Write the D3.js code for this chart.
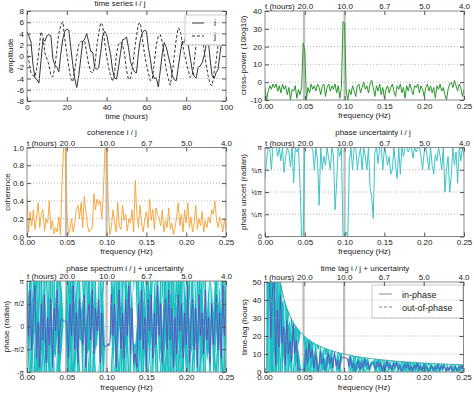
<!DOCTYPE html>
<html>
<meta http-equiv="content-type" content="text/html; charset=utf-8" />
<head>
  <title>Cross spectrum i / j</title>
</head>
<style>
body { margin: 0; background: #fff; }
text { font-family: "Liberation Sans", Arial, sans-serif; fill: #222; }
.axis text { font: 8px "Liberation Sans", Arial, sans-serif; fill: #222; }
.axis line { stroke: #555; }
.axis path { display: none; }
.frame { fill: none; stroke: #888; stroke-width: 1; }
.lbl { font-size: 8px; }
</style>
<body>
<svg class="chart"></svg>
<script src="https://d3js.org/d3.v7.min.js"></script>
<script>
// sample times (hours) and the two time series
var hours = d3.range(0, 101);
var seriesI = [
   4.4,  3.5,  2.5, -1.5, -3.9, -4.2, -4.8, -1.0,  3.0,  2.6,
   3.6,  3.8,  3.6, -0.5, -1.6, -2.0, -2.8,  0.5,  3.0,  4.4,
   4.8,  4.6,  1.5, -1.5, -4.0, -5.6, -3.5, -0.5,  2.6,  3.0,
   4.0,  2.5,  0.8,  0.7, -2.0, -2.4, -2.1,  0.5,  3.5,  4.4,
   3.8,  2.0,  0.3, -2.5, -3.9, -4.1, -2.0,  0.5,  2.9,  3.0,
   3.4,  1.5, -1.0, -2.0, -2.8, -3.0,  0.5,  3.0,  4.1,  4.6,
   4.4,  1.5, -0.6, -3.0, -4.0, -3.9, -5.5, -2.5,  0.5,  2.4,
   1.5,  0.0, -1.5, -3.5, -4.2, -4.4, -2.0,  0.5,  2.6,  2.4,
   3.8,  2.0, -0.2, -2.5, -3.6, -3.9, -2.0, -1.8, -1.2,  0.0,
   2.0,  3.0, -0.5, -3.5, -4.0, -3.0, -2.4,  0.5,  2.9,  4.0,
   5.0];
var seriesJ = [
   1.0, -1.0, -3.0, -3.5, -3.7, -2.0,  1.0,  4.3,  3.5,  0.5,
  -0.5, -1.5, -3.5, -3.7, -2.0,  1.0,  4.0,  5.5,  6.1,  3.0,
   0.5, -2.0, -4.0, -4.6, -2.5,  0.0,  2.0,  2.5,  2.6,  2.7,
   0.5, -1.5, -2.8, -3.0, -2.0,  1.5,  4.0,  5.9,  5.5,  2.5,
   0.0, -2.0, -3.5, -4.5, -3.0,  0.5,  2.0,  2.5,  2.0,  0.5,
  -2.5, -4.2, -4.0, -2.0,  1.0,  3.5,  5.7,  5.9,  3.0,  0.5,
  -1.5, -3.0, -4.4, -4.0, -1.0,  2.0,  3.5,  3.8,  2.5,  0.0,
  -2.5, -4.0, -5.2, -3.0,  0.0,  3.0,  5.0,  4.5,  2.5,  0.5,
  -1.0, -2.5, -3.8, -3.5, -1.0,  2.0,  4.5,  5.0,  3.5,  1.0,
  -1.5, -3.5, -5.0, -5.3, -3.0, -1.0,  2.0,  4.0,  5.6,  4.0,
   2.5];

// frequency grid (Hz), 0 .. 0.25
var freq = d3.range(0, 126).map(function(k) { return k * 0.002; });
var crossPower = [
   -3, -10,  -5,  -2,  -4,  -1,  -3,  -1,  -5,  -2,
   -6,  -1,  -4,  -2,  -7,  -3, -10,  -4,  -5,  -2,
   -9,  -4,  -7,  -3,  22,  18, -10,  -3,  -6,  -1,
   -4,  -2,  -5,  -1,  -3,  -7,  -2,  -1,  -8,  -3,
   -1,  -5,  -2,  -4,  -1,  -6,  -2,  -9,  -3,  34,
   33,  -5, -10,  -4,  -7,  -2,  -5,  -8,  -2,  -1,
   -6,  -3,   0,  -4,  -2,  -6,  -1,   1,  -3,  -8,
   -2,  -5,  -1,  -7,  -3,  -9,  -4,  -2,  -6,  -3,
   -1,  -5,  -8,  -2,  -4,  -1,  -6,  -3,  -9,  -2,
   -5,  -1,  -4,  -7,  -2,  -3,  -1,  -6,  -2,  -4,
   -8,  -3,  -1,  -5,  -2,  -6,  -3,  -9,  -2,  -4,
   -1,  -5,  -3,  -7, -10,  -4,  -1,   0,  -3,   1,
   -2,  -5,  -1,  -3,  -8,  -4];
var coherence = [
  0.48, 0.05, 0.28, 0.12, 0.30, 0.08, 0.22, 0.38, 0.10, 0.25,
  0.30, 0.06, 0.20, 0.15, 0.40, 0.08, 0.18, 0.03, 0.10, 0.05,
  0.22, 0.02, 0.60, 1.00, 1.00, 0.30, 0.02, 0.08, 0.20, 0.05,
  0.15, 0.30, 0.35, 0.20, 0.38, 0.10, 0.45, 0.28, 0.12, 0.05,
  0.08, 0.10, 0.48, 0.30, 0.42, 0.36, 0.40, 0.20, 0.50, 1.00,
  1.00, 0.40, 0.02, 0.10, 0.30, 0.15, 0.05, 0.38, 0.12, 0.08,
  0.35, 0.18, 0.25, 0.06, 0.20, 0.15, 0.30, 0.05, 0.63, 0.25,
  0.10, 0.35, 0.15, 0.05, 0.20, 0.28, 0.10, 0.42, 0.18, 0.30,
  0.08, 0.32, 0.25, 0.20, 0.12, 0.30, 0.05, 0.18, 0.10, 0.32,
  0.08, 0.15, 0.02, 0.10, 0.22, 0.38, 0.12, 0.25, 0.05, 0.30,
  0.15, 0.38, 0.10, 0.22, 0.05, 0.15, 0.35, 0.08, 0.20, 0.12,
  0.28, 0.05, 0.18, 0.10, 0.22, 0.15, 0.30, 0.25, 0.40, 0.20,
  0.10, 0.22, 0.15, 0.05, 0.20, 0.08];
// phase uncertainty, in units of pi
var phaseUnc = [
  0.65, 0.85, 1.00, 1.00, 0.75, 1.00, 1.00, 1.00, 0.90, 1.00,
  0.85, 1.00, 0.72, 0.90, 1.00, 0.95, 0.78, 1.00, 0.60, 1.00,
  0.95, 1.00, 0.60, 0.00, 0.00, 1.00, 1.00, 1.00, 1.00, 1.00,
  0.98, 0.75, 1.00, 0.85, 0.35, 1.00, 0.75, 0.90, 0.80, 1.00,
  0.88, 0.75, 1.00, 0.92, 0.30, 0.60, 1.00, 0.90, 1.00, 0.00,
  0.00, 0.05, 0.00, 0.85, 1.00, 0.75, 1.00, 1.00, 0.75, 0.90,
  1.00, 0.75, 1.00, 0.90, 0.75, 1.00, 0.55, 0.45, 0.20, 0.95,
  1.00, 0.82, 1.00, 1.00, 0.75, 1.00, 0.92, 0.80, 0.90, 0.70,
  0.75, 1.00, 0.80, 0.65, 1.00, 0.70, 1.00, 0.90, 1.00, 1.00,
  0.95, 1.00, 1.00, 0.88, 1.00, 0.95, 1.00, 1.00, 0.90, 0.75,
  0.95, 1.00, 0.88, 0.75, 1.00, 0.80, 0.70, 0.92, 0.85, 1.00,
  0.90, 0.75, 1.00, 0.50, 0.75, 0.90, 0.50, 0.68, 1.00, 0.80,
  0.95, 0.60, 1.00, 0.85, 1.00, 0.90];
// phase spectrum, in units of pi
var phase = [
   0.60, -0.20,  0.80, -0.50,  0.30,  0.90, -0.70,  0.10, -0.90,  0.50,
  -0.30,  0.70, -0.80,  0.20, -0.40,  0.60, -0.90,  0.40, -0.10,  0.80,
  -0.60,  0.15,  0.15,  0.12,  0.12,  0.10, -0.70,  0.50, -0.20,  0.90,
  -0.50,  0.30, -0.80,  0.60,  0.00, -0.40,  0.70, -0.90,  0.20,  0.50,
  -0.30,  0.80, -0.60,  0.40, -0.10,  0.60, -0.80,  0.30, -0.40, -0.45,
  -0.42, -0.40, -0.40,  0.70, -0.20,  0.50, -0.90,  0.10,  0.80, -0.50,
   0.30, -0.70,  0.60, -0.20,  0.90, -0.60,  0.40, -0.80, -0.60, -0.90,
   0.50, -0.30,  0.80, -0.50,  0.20, -0.90,  0.60, -0.10,  0.70, -0.70,
   0.30, -0.40,  0.90, -0.20,  0.50, -0.80,  0.10,  0.60, -0.50,  0.80,
  -0.30,  0.40, -0.90,  0.20, -0.60,  0.70, -0.10,  0.50, -0.70,  0.30,
  -0.40,  0.90, -0.80,  0.10,  0.60, -0.50,  0.40, -0.90,  0.70, -0.20,
   0.30, -0.60,  0.80, -0.30,  0.20, -0.80,  0.50, -0.40,  0.10,  0.70,
  -0.50,  0.30, -0.70,  0.90, -0.20,  0.60];

var freqTicks = [0, 0.05, 0.1, 0.15, 0.2, 0.25];
var periodTicks = [0.05, 0.1, 0.15, 0.2, 0.25];
var markFreqs = [0.049, 0.1];

var cyan = "#19c0c0", purple = "#7d2fc8";

var svg = d3.select(".chart").attr("width", 474).attr("height", 393);
var clipCount = 0;

function makePanel(p) {
  var x = d3.scaleLinear().domain(p.xd).range([p.l, p.r]);
  var y = d3.scaleLinear().domain(p.yd).range([p.b, p.t]);
  var id = "clip" + (clipCount++);
  svg.append("clipPath").attr("id", id).append("rect")
    .attr("x", p.l).attr("y", p.t).attr("width", p.r - p.l).attr("height", p.b - p.t);
  var g = svg.append("g");
  var plot = g.append("g").attr("clip-path", "url(#" + id + ")");
  return {p: p, x: x, y: y, g: g, plot: plot};
}

function markers(P) {
  P.plot.selectAll(".mark").data(markFreqs).join("line")
    .attr("class", "mark")
    .attr("x1", P.x).attr("x2", P.x)
    .attr("y1", P.p.t).attr("y2", P.p.b)
    .attr("stroke", "#bdbdbd").attr("stroke-width", 2.2);
}

function blank() { return ""; }

function finish(P) {
  var p = P.p, g = P.g, x = P.x, y = P.y;
  g.append("g").selectAll("line")
    .data(p.yt.filter(function(v) { return v !== p.yd[0] && v !== p.yd[1]; }))
    .join("line")
    .attr("x1", p.l).attr("x2", p.r)
    .attr("y1", y).attr("y2", y)
    .attr("stroke", "#999").attr("stroke-width", 0.7).attr("stroke-dasharray", "1,2");
  g.append("rect").attr("class", "frame")
    .attr("x", p.l).attr("y", p.t).attr("width", p.r - p.l).attr("height", p.b - p.t);

  g.append("g").attr("class", "axis").attr("transform", "translate(0," + p.b + ")")
    .call(d3.axisBottom(x).tickValues(p.xt).tickFormat(p.xf).tickSize(-4).tickPadding(p.xpad));
  g.append("g").attr("class", "axis").attr("transform", "translate(0," + p.t + ")")
    .call(d3.axisTop(x).tickValues(p.top ? periodTicks : p.xt)
      .tickFormat(p.top ? function(f) { return (1 / f).toFixed(1); } : blank)
      .tickSize(-4).tickPadding(2));
  var left = g.append("g").attr("class", "axis").attr("transform", "translate(" + p.l + ",0)")
    .call(d3.axisLeft(y).tickValues(p.yt).tickFormat(p.yf).tickSize(-4).tickPadding(3));
  if (p.ysize) left.selectAll("text").style("font-size", p.ysize + "px");
  g.append("g").attr("class", "axis").attr("transform", "translate(" + p.r + ",0)")
    .call(d3.axisRight(y).tickValues(p.yt).tickFormat(blank).tickSize(-4));

  if (p.top) {
    g.append("text").attr("class", "lbl").attr("x", p.l).attr("y", p.t - 2).text("t (hours)");
  }
  g.append("text").attr("class", "lbl")
    .attr("x", (p.l + p.r) / 2).attr("y", p.b + p.xly)
    .attr("text-anchor", "middle").text(p.xl);
  g.append("text").attr("class", "lbl")
    .attr("transform", "translate(" + p.ylx + "," + (p.t + p.b) / 2 + ") rotate(-90)")
    .attr("dy", "0.35em").attr("text-anchor", "middle").text(p.yl);
  if (p.title) {
    g.append("text").attr("class", "lbl")
      .attr("x", p.tx).attr("y", p.ty).attr("text-anchor", "middle").text(p.title);
  }
}

function num(v) { return String(v); }
var f2 = d3.format(".2f"), f1 = d3.format(".1f");
var idx = d3.range(freq.length);

// ---- time series
var P1 = makePanel({l: 27, r: 226, t: 11, b: 101, xd: [0, 100], yd: [-8, 8],
  xt: [0, 20, 40, 60, 80, 100], yt: [-8, -6, -4, -2, 0, 2, 4, 6, 8], xf: num, yf: num,
  xpad: 3, xl: "time (hours)", xly: 17.5, yl: "amplitude", ylx: 10,
  title: "time series i / j", tx: 120, ty: 6});
P1.plot.append("path").datum(hours)
  .attr("d", d3.line().x(function(t) { return P1.x(t); }).y(function(t) { return P1.y(seriesJ[t]); }))
  .attr("fill", "none").attr("stroke", "#333").attr("stroke-width", 1).attr("stroke-dasharray", "3,2");
P1.plot.append("path").datum(hours)
  .attr("d", d3.line().x(function(t) { return P1.x(t); }).y(function(t) { return P1.y(seriesI[t]); }))
  .attr("fill", "none").attr("stroke", "#333").attr("stroke-width", 1);
var leg1 = P1.plot.append("g");
leg1.append("rect").attr("x", 185).attr("y", 15).attr("width", 41).attr("height", 30)
  .attr("fill", "#fff").attr("stroke", "#ccc");
leg1.append("line").attr("x1", 192).attr("x2", 204).attr("y1", 23).attr("y2", 23)
  .attr("stroke", "#333");
leg1.append("line").attr("x1", 192).attr("x2", 204).attr("y1", 36).attr("y2", 36)
  .attr("stroke", "#333").attr("stroke-dasharray", "3,2");
leg1.append("text").attr("x", 214).attr("y", 26).style("font-size", "9px").text("i");
leg1.append("text").attr("x", 214).attr("y", 39).style("font-size", "9px").text("j");
finish(P1);

// ---- cross-power
var P2 = makePanel({l: 265, r: 464, t: 11, b: 100, xd: [0, 0.25], yd: [-10, 40],
  xt: freqTicks, yt: [-10, 0, 10, 20, 30, 40], xf: f2, yf: num, top: true,
  xpad: 3, xl: "frequency (Hz)", xly: 18, yl: "cross-power (10log10)", ylx: 243});
markers(P2);
P2.plot.append("path").datum(idx)
  .attr("d", d3.line().x(function(i) { return P2.x(freq[i]); }).y(function(i) { return P2.y(crossPower[i]); }))
  .attr("fill", "none").attr("stroke", "#2a962a").attr("stroke-width", 1);
finish(P2);

// ---- coherence
var P3 = makePanel({l: 27, r: 226, t: 147.5, b: 236.5, xd: [0, 0.25], yd: [0, 1],
  xt: freqTicks, yt: [0, 0.2, 0.4, 0.6, 0.8, 1], xf: f2, yf: f1, top: true,
  xpad: 3, xl: "frequency (Hz)", xly: 17.5, yl: "coherence", ylx: 7.5,
  title: "coherence i / j", tx: 112, ty: 134.5});
markers(P3);
P3.plot.append("path").datum(idx)
  .attr("d", d3.line().x(function(i) { return P3.x(freq[i]); }).y(function(i) { return P3.y(coherence[i]); }))
  .attr("fill", "none").attr("stroke", "#f5a030").attr("stroke-width", 1).attr("opacity", 0.9);
finish(P3);

// ---- phase uncertainty
var piLabels = {"1": "π", "0.75": "¾π", "0.5": "½π", "0.25": "¼π", "0": "0"};
var P4 = makePanel({l: 265, r: 464, t: 147.5, b: 236.5, xd: [0, 0.25], yd: [0, 1],
  xt: freqTicks, yt: [0, 0.25, 0.5, 0.75, 1], xf: f2,
  yf: function(v) { return piLabels[String(v)]; }, ysize: 7, top: true,
  xpad: 3, xl: "frequency (Hz)", xly: 17.5, yl: "phase uncert (radian)", ylx: 243.5,
  title: "phase uncertainty i / j", tx: 373, ty: 134.5});
markers(P4);
P4.plot.append("path").datum(idx)
  .attr("d", d3.line().x(function(i) { return P4.x(freq[i]); }).y(function(i) { return P4.y(phaseUnc[i]); }))
  .attr("fill", "none").attr("stroke", "#3cc4c4").attr("stroke-width", 1);
finish(P4);

// ---- phase spectrum + uncertainty band
var phLabels = {"1": "π", "0.5": "π/2", "0": "0", "-0.5": "-π/2", "-1": "-π"};
var P5 = makePanel({l: 27, r: 226, t: 281, b: 372, xd: [0, 0.25], yd: [-1, 1],
  xt: freqTicks, yt: [-1, -0.5, 0, 0.5, 1], xf: f2,
  yf: function(v) { return phLabels[String(v)]; }, ysize: 6.5, top: true,
  xpad: 2, xl: "frequency (Hz)", xly: 17.5, yl: "phase (radian)", ylx: 6.5,
  title: "phase spectrum i / j + uncertainty", tx: 125, ty: 271});
markers(P5);
[-2, 0, 2].forEach(function(k) {
  P5.plot.append("path").datum(idx)
    .attr("d", d3.area().x(function(i) { return P5.x(freq[i]); })
      .y0(function(i) { return P5.y(phase[i] - phaseUnc[i] + k); })
      .y1(function(i) { return P5.y(phase[i] + phaseUnc[i] + k); }))
    .attr("fill", cyan);
});
P5.plot.append("path").datum(idx)
  .attr("d", d3.line().x(function(i) { return P5.x(freq[i]); }).y(function(i) { return P5.y(phase[i]); }))
  .attr("fill", "none").attr("stroke", purple).attr("stroke-width", 0.9).attr("opacity", 0.8);
finish(P5);

// ---- time lag + uncertainty (lag wrapped into one period)
var P6 = makePanel({l: 264.5, r: 463.5, t: 282, b: 372, xd: [0, 0.25], yd: [0, 50],
  xt: freqTicks, yt: [0, 10, 20, 30, 40, 50], xf: f2, yf: num, top: true,
  xpad: 2, xl: "frequency (Hz)", xly: 17.5, yl: "time-lag (hours)", ylx: 244,
  title: "time lag i / j + uncertainty", tx: 365, ty: 271});
var lagIdx = d3.range(1, freq.length);
function period(i) { return 1 / freq[i]; }
function lag(i) { return ((phase[i] % 2) + 2) % 2 / 2 * period(i); }
function capped(v) { return Math.min(v, 60); }
svg.append("clipPath").attr("id", "lagclip").append("path").datum(lagIdx)
  .attr("d", d3.area().x(function(i) { return P6.x(freq[i]); })
    .y0(P6.y(0)).y1(function(i) { return P6.y(capped(period(i))); }));
markers(P6);
var band = P6.plot.append("g").attr("clip-path", "url(#lagclip)");
[-1, 0, 1].forEach(function(k) {
  band.append("path").datum(lagIdx)
    .attr("d", d3.area().x(function(i) { return P6.x(freq[i]); })
      .y0(function(i) { return P6.y(capped(lag(i) - phaseUnc[i] / 2 * period(i) + k * period(i))); })
      .y1(function(i) { return P6.y(capped(lag(i) + phaseUnc[i] / 2 * period(i) + k * period(i))); }))
    .attr("fill", cyan);
});
P6.plot.append("path").datum(lagIdx)
  .attr("d", d3.line().x(function(i) { return P6.x(freq[i]); }).y(function(i) { return P6.y(capped(period(i))); }))
  .attr("fill", "none").attr("stroke", "#2a9f9f").attr("stroke-width", 0.8);
P6.plot.append("path").datum(lagIdx)
  .attr("d", d3.line().x(function(i) { return P6.x(freq[i]); }).y(function(i) { return P6.y(capped(lag(i))); }))
  .attr("fill", "none").attr("stroke", purple).attr("stroke-width", 0.9).attr("opacity", 0.8);
var leg6 = P6.plot.append("g");
leg6.append("rect").attr("x", 372).attr("y", 285).attr("width", 91).attr("height", 33)
  .attr("fill", "#fff").attr("stroke", "#ccc");
leg6.append("line").attr("x1", 379).attr("x2", 392).attr("y1", 294).attr("y2", 294)
  .attr("stroke", "#888");
leg6.append("line").attr("x1", 379).attr("x2", 392).attr("y1", 307).attr("y2", 307)
  .attr("stroke", "#888").attr("stroke-dasharray", "3,2");
leg6.append("text").attr("x", 402).attr("y", 297.5).style("font-size", "9px").text("in-phase");
leg6.append("text").attr("x", 402).attr("y", 310.5).style("font-size", "9px").text("out-of-phase");
finish(P6);
</script>
</body>
</html>
